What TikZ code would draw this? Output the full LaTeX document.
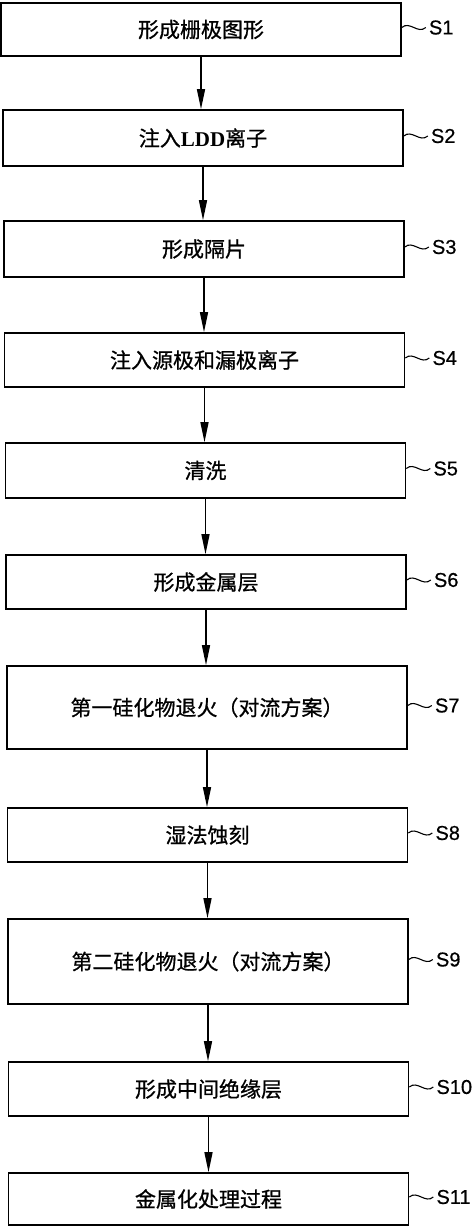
\documentclass[tikz,border=0pt]{standalone}
\usepackage{fontspec}
\newfontfamily\cjk[FakeBold=0.8]{Noto Sans CJK SC}
\newfontfamily\arial[FakeBold=0.6]{Liberation Sans}
\newfontfamily\tnr{Liberation Serif}
\usetikzlibrary{arrows.meta}
\tikzset{
  stepbox/.style={draw, line width=1.6pt, rectangle, minimum width=400pt, inner sep=0pt,
    font=\cjk\fontsize{21}{25}\selectfont},
  lab/.style={anchor=west, inner sep=0pt, font=\arial\fontsize{20}{22}\selectfont},
  arr/.style={line width=1.4pt, -{Triangle[length=20pt, width=8pt]}},
  tl/.style={line width=1.1pt}
}
\begin{document}
\begin{tikzpicture}[x=1pt, y=-1pt]
\useasboundingbox (0,0) rectangle (474,1228);
\node[stepbox, minimum height=53pt] (s1) at (201,29.5) {形成栅极图形};
\node[stepbox, minimum height=56pt] (s2) at (203,138) {注入{\tnr\bfseries LDD}离子};
\node[stepbox, minimum height=56pt] (s3) at (204,249) {形成隔片};
\node[stepbox, minimum height=54pt] (s4) at (204.5,360) {注入源极和漏极离子};
\node[stepbox, minimum height=55pt] (s5) at (205.5,470.5) {清洗};
\node[stepbox, minimum height=54pt] (s6) at (206,582) {形成金属层};
\node[stepbox, minimum height=83pt] (s7) at (207,707.5) {第一硅化物退火（对流方案）};
\node[stepbox, minimum height=54pt] (s8) at (207.5,835) {湿法蚀刻};
\node[stepbox, minimum height=85pt] (s9) at (208,961.5) {第二硅化物退火（对流方案）};
\node[stepbox, minimum height=54pt] (s10) at (208.5,1089) {形成中间绝缘层};
\node[stepbox, minimum height=52pt] (s11) at (208.5,1199) {金属化处理过程};
\foreach \i in {1,...,11}{
  \node[lab] (l\i) at ([xshift=27pt, yshift=2pt]s\i.east) {S\i};
  \draw[tl] (l\i.west -| s\i.east) .. controls +(8,-7) and +(-8,7) .. ([xshift=-3pt]l\i.west);
}
\foreach \a/\b in {1/2,2/3,3/4,4/5,5/6,6/7,7/8,8/9,9/10,10/11}{
  \draw[arr] (s\a.south) -- (s\a.south |- s\b.north);
}
\end{tikzpicture}
\end{document}
